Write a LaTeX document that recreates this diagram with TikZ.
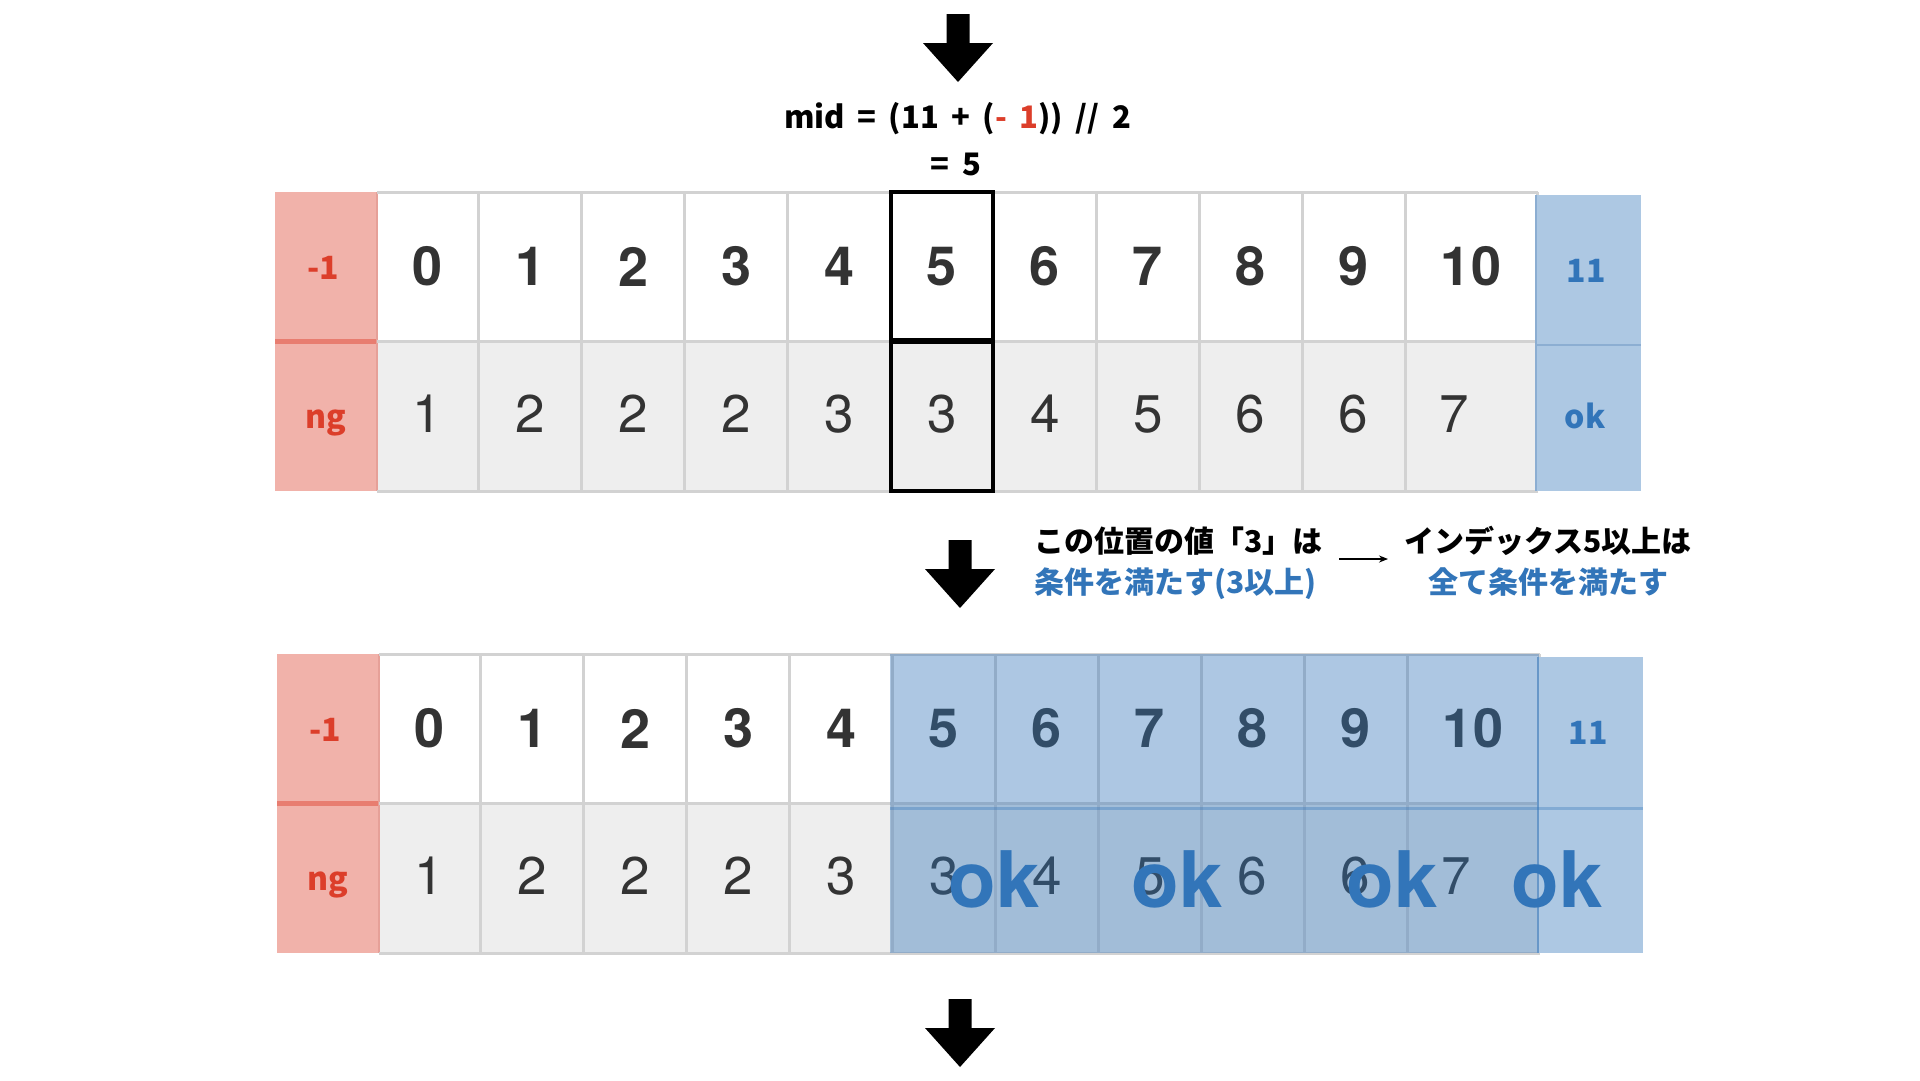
\documentclass[tikz,border=0pt]{standalone}
\usepackage{fontspec}
\setmainfont{TeX Gyre Heros}
\newfontfamily\jp{Noto Sans CJK JP}
\usetikzlibrary{arrows.meta}
\definecolor{cred}{RGB}{220,62,42}
\definecolor{cblue}{RGB}{50,117,185}
\definecolor{redfill}{RGB}{241,178,170}
\definecolor{redline}{RGB}{232,125,112}
\definecolor{rededge}{RGB}{230,160,152}
\definecolor{bluefill}{RGB}{173,200,227}
\definecolor{blueline}{RGB}{140,174,210}
\definecolor{gridc}{RGB}{210,210,210}
\definecolor{cellgray}{RGB}{238,238,238}
\definecolor{numc}{RGB}{51,51,51}
\tikzset{
  gridln/.style={draw=gridc, line width=3pt},
  num/.style={text=numc, font=\bfseries\fontsize{54}{60}\selectfont, inner sep=0pt},
  val/.style={text=numc, font=\fontsize{53}{60}\selectfont, inner sep=0pt},
  lab/.style={font=\jp\bfseries\fontsize{32}{36}\selectfont, inner sep=0pt, anchor=base},
  bigok/.style={text=cblue, font=\bfseries\fontsize{78}{80}\selectfont, inner sep=0pt, anchor=base},
  jpt/.style={font=\jp\bfseries\fontsize{30}{36}\selectfont, inner sep=0pt, anchor=base},
  formula/.style={font=\jp\bfseries\fontsize{31}{36}\selectfont, inner sep=0pt, anchor=base},
  blockarrow/.style={fill=black},
}
\newcommand\mytable[4]{%
\begin{scope}[shift={(#1,#2)}]
  \fill[redfill] (275,192) rectangle (377,491);
  \fill[white] (377,192) rectangle (1537,341);
  \fill[cellgray] (377,341) rectangle (1537,491);
  \draw[redline, line width=5pt] (275,341) -- (377,341);
  \draw[rededge, line width=2.5pt] (377,192) -- (377,491);
  \foreach \i in {1,...,10} \draw[gridln] ({376+102.9*\i},192) -- ({376+102.9*\i},491);
  \draw[gridln] (1537,192) -- (1537,491);
  \draw[gridln] (377,192) -- (1538,192);
  \draw[gridln] (377,341) -- (1538,341);
  \draw[gridln] (377,491) -- (1538,491);
  \foreach \i in {0,...,9} \node[num] (#3t\i) at ({427.5+102.9*\i},266.5) {\i};
  \node[num] (#3t10) at (1471,266.5) {10};
  \foreach \i/\v in {0/1,1/2,2/2,3/2,4/3,5/3,6/4,7/5,8/6,9/6} \node[val] (#3b\i) at ({427.5+102.9*\i},414) {\v};
  \node[val] (#3b10) at (1454,414) {7};
  \node[lab, text=cred] (#3lm) at (323,279) {-1};
  \node[lab, text=cred] (#3ng) at (326,428) {ng};
  \fill[bluefill] (1536,195) rectangle (1641,491);
  \draw[blueline, line width=2pt] (1536,195) -- (1536,491);
  \node[lab, text=cblue] (#3el) at (1586,282) {11};
  #4
\end{scope}}
\newcommand\blockarr[2]{%
  \fill[blockarrow] ({#1-11.5},#2) -- ({#1+11.5},#2) -- ({#1+11.5},{#2+29}) -- ({#1+35},{#2+29})
    -- (#1,{#2+68}) -- ({#1-35},{#2+29}) -- ({#1-11.5},{#2+29}) -- cycle;}
\begin{document}
\begin{tikzpicture}[x=1pt,y=-1pt]
\useasboundingbox (0,0) rectangle (1920,1080);
\fill[white] (0,0) rectangle (1920,1080);

% arrows
\blockarr{958}{14}
\blockarr{960}{540}
\blockarr{960}{999}

% formula
\node[formula] (f1) at (957.5,128) {\spaceskip=12.5pt mid = (11 + ({\color{cred}- 1})) // 2};
\node[formula] (f2) at (956,175) {\spaceskip=12.5pt = 5};

% top table
\mytable{0}{0}{a}{\node[lab, text=cblue] (aok) at (1585,428) {ok};}
\draw[blueline, line width=2.5pt] (1536,345) -- (1641,345);
\draw[black, line width=4pt] (890.5,192) rectangle (993.4,491);
\draw[black, line width=6pt] (890.5,341) -- (993.4,341);

% explanation
\node[jpt, anchor=base west] (jl1) at (1034,552) {この位置の値「3」は};
\node[jpt, anchor=base west, text=cblue] (jl2) at (1034,593) {条件を満たす(3以上)};
\node[jpt] (jr1) at (1548,552) {インデックス5以上は};
\node[jpt, text=cblue] (jr2) at (1548,593) {全て条件を満たす};
\coordinate (sa) at (1339,559);
\coordinate (sb) at (1388,559);
\draw[line width=1.5pt, -{Stealth[length=9pt,width=7pt]}] (sa) -- (sb);

% bottom table
\mytable{2}{462}{b}{}
\fill[cblue, opacity=0.4] (890,654) rectangle (1539,953);
\draw[cblue, opacity=0.35, line width=3pt] (890,808) -- (1643,808);
\node[bigok] (ok1) at (994,907) {ok};
\node[bigok] (ok2) at (1177,907) {ok};
\node[bigok] (ok3) at (1392,907) {ok};
\node[bigok] (ok4) at (1557,907) {ok};
\end{tikzpicture}
\end{document}
